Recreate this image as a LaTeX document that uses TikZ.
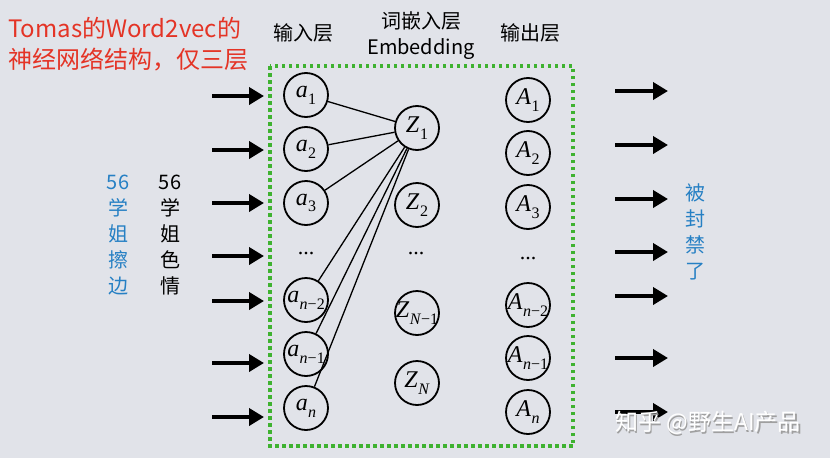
\documentclass[tikz,border=0pt]{standalone}
\usepackage{fontspec}
\setmainfont{Noto Sans CJK SC}
\newfontfamily\lblfont{Liberation Serif}
\usetikzlibrary{arrows.meta}

\definecolor{bgcol}{RGB}{225,227,233}
\definecolor{boxgreen}{RGB}{62,178,48}
\definecolor{titlered}{RGB}{228,52,38}
\definecolor{noteblue}{RGB}{38,128,196}

\newcommand{\nlbl}[2]{\makebox[0pt]{\lblfont\textit{#1}\kern.02em\raisebox{-.28em}{\fontsize{16}{16}\selectfont #2}}}

\tikzset{
    neuron/.style = {circle, draw, line width = 1.8pt, minimum size = 44pt, inner sep = 0pt, font = \fontsize{24}{24}\selectfont},
    bigarrow/.style = {line width = 4.5pt, -{Triangle[length = 15pt, width = 17pt]}},
    link/.style = {line width = 1.3pt},
    layer/.style = {inner sep = 0pt, align = center, font = \fontsize{20}{26}\selectfont},
    dotsym/.style = {inner sep = 0pt, font = \lblfont\fontsize{22}{22}\selectfont},
}

\begin{document}
\begin{tikzpicture}[x = 1pt, y = -1pt]
                \fill[bgcol] (0, 0) rectangle (830, 458);
                \useasboundingbox (0, 0) rectangle (830, 458);

                \draw[boxgreen, line width = 3.5pt, dash pattern = on 3.5pt off 3.5pt] (270, 66) rectangle (573, 446);

                \foreach \n/\b/\s/\y in {a1/a/1/95, a2/a/2/149, a3/a/3/203, an2/a/\textit{n}−2/300, an1/a/\textit{n}−1/354, an/a/\textit{n}/408} {
                    \node[neuron] (\n) at (306, \y) {\nlbl{\b}{\s}};
                }
                \foreach \n/\b/\s/\y in {Z1/Z/1/128, Z2/Z/2/205, ZN1/Z/\textit{N}−1/313, ZN/Z/\textit{N}/383} {
                    \node[neuron] (\n) at (417, \y) {\nlbl{\b}{\s}};
                }
                \foreach \n/\b/\s/\y in {A1/A/1/100, A2/A/2/153, A3/A/3/207, An2/A/\textit{n}−2/305, An1/A/\textit{n}−1/358, An/A/\textit{n}/412} {
                    \node[neuron] (\n) at (528, \y) {\nlbl{\b}{\s}};
                }

                \node[dotsym] (adots) at (306, 254) {...};
                \node[dotsym] (zdots) at (416, 254) {...};
                \node[dotsym] (Adots) at (528, 259) {...};

                \foreach \n in {a1, a2, a3, an2, an1, an} {
                    \draw[link] (\n) -- (Z1);
                }

                \foreach \y [count = \i] in {96, 150, 203, 256, 301, 363, 417} {
                    \coordinate (inA\i) at (212, \y);
                    \coordinate (inB\i) at (264, \y);
                    \draw[bigarrow] (inA\i) -- (inB\i);
                }
                \foreach \y [count = \i] in {91, 145, 199, 252, 296, 358, 412} {
                    \coordinate (outA\i) at (615, \y);
                    \coordinate (outB\i) at (668, \y);
                    \draw[bigarrow] (outA\i) -- (outB\i);
                }

                \node[layer] (inlayer) at (303, 33) {输入层};
                \node[layer] (emblayer) at (421, 36) {词嵌入层\\Embedding};
                \node[layer] (outlayer) at (530, 33) {输出层};

                \node[inner sep = 0pt, anchor = west, text = titlered, font = \fontsize{24}{24}\selectfont] (title1) at (8, 28) {Tomas的Word2vec的};
                \node[inner sep = 0pt, anchor = west, text = titlered, font = \fontsize{24}{24}\selectfont] (title2) at (8, 60) {神经网络结构，仅三层};

                \node[layer, text = noteblue] (noteA) at (118, 235) {56\\学\\姐\\擦\\边};
                \node[layer] (noteB) at (170, 235) {56\\学\\姐\\色\\情};
                \node[layer, text = noteblue] (noteC) at (695, 232) {被\\封\\禁\\了};

                \node[inner sep = 0pt, text = gray!75, font = \fontsize{23}{23}\selectfont] (markshadow) at (709.5, 424.5) {知乎 @野生AI产品};
                \node[inner sep = 0pt, text = white, font = \fontsize{23}{23}\selectfont] (mark) at (708, 423) {知乎 @野生AI产品};
\end{tikzpicture}
\end{document}
